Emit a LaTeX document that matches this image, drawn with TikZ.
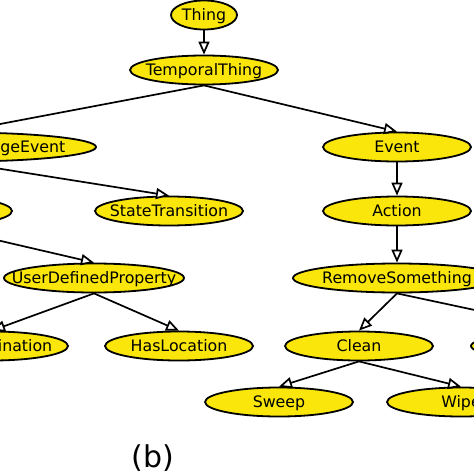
\documentclass[tikz,border=0pt]{standalone}
\usepackage{fontspec}
\setmainfont{DejaVu Sans}
\usetikzlibrary{shapes.geometric,arrows.meta}
\definecolor{ontoyellow}{RGB}{250,230,10}

\begin{document}
\begin{tikzpicture}[x=1pt,y=-1pt,
    concept/.style={ellipse,draw,line width=1.8pt,fill=ontoyellow,
      minimum width=148pt,minimum height=29pt,inner sep=0pt,
      text height=11.5pt,text depth=0pt,font=\fontsize{15.8}{18}\selectfont},
    isa/.style={draw,line width=1.7pt,-{Triangle[length=13pt,width=11pt,fill=white]}}]
    \path[use as bounding box,clip] (0,0) rectangle (474,474);
    % classes
    \node[concept,minimum width=66pt] (thing) at (204,15) {\makebox[0pt]{Thing}};
    \node[concept] (temporal) at (204,70) {\makebox[0pt]{TemporalThing}};
    \node[concept,minimum width=272pt] (change) at (-40,147) {\makebox[0pt]{IntrinsicStateChangeEvent}};
    \node[concept] (event) at (397,147) {\makebox[0pt]{Event}};
    \node[concept] (hiddenleft) at (-62,211) {};
    \node[concept] (statetrans) at (169,211) {\makebox[0pt]{StateTransition}};
    \node[concept] (action) at (397,211) {\makebox[0pt]{Action}};
    \node[concept,minimum width=180pt] (userprop) at (94,278) {\makebox[0pt]{UserDefinedProperty}};
    \node[concept,minimum width=208pt] (remove) at (397,278) {\makebox[0pt]{RemoveSomething}};
    \node[concept,minimum width=152pt] (hasdest) at (-8,346) {\makebox[0pt]{HasDestination}};
    \node[concept] (hasloc) at (179,346) {\makebox[0pt]{HasLocation}};
    \node[concept] (clean) at (359,346) {\makebox[0pt]{Clean}};
    \node[concept,minimum width=200pt] (hiddenright) at (571,346) {};
    \node[concept] (sweep) at (279,402) {\makebox[0pt]{Sweep}};
    \node[concept] (wipe) at (461,402) {\makebox[0pt]{Wipe}};
    \node[anchor=base,font=\fontsize{30}{34}\selectfont] (caption) at (153,467) {(b)};
    % subclass links
    \draw[isa] (thing.south) -- (temporal.north);
    \draw[isa] (temporal.south) -- (change.north);
    \draw[isa] (temporal.south) -- (event.north);
    \draw[isa] (change.south) -- (statetrans.north);
    \draw[isa] (event.south) -- (action.north);
    \draw[isa] (action.south) -- (remove.north);
    \draw[isa] (hiddenleft.south) -- (userprop.north);
    \draw[isa] (userprop.south) -- (hasdest.north);
    \draw[isa] (userprop.south) -- (hasloc.north);
    \draw[isa] (remove.south) -- (clean.north);
    \draw[isa] (remove.south) -- (hiddenright.north);
    \draw[isa] (clean.south) -- (sweep.north);
    \draw[isa] (clean.south) -- (wipe.north);
\end{tikzpicture}
\end{document}
